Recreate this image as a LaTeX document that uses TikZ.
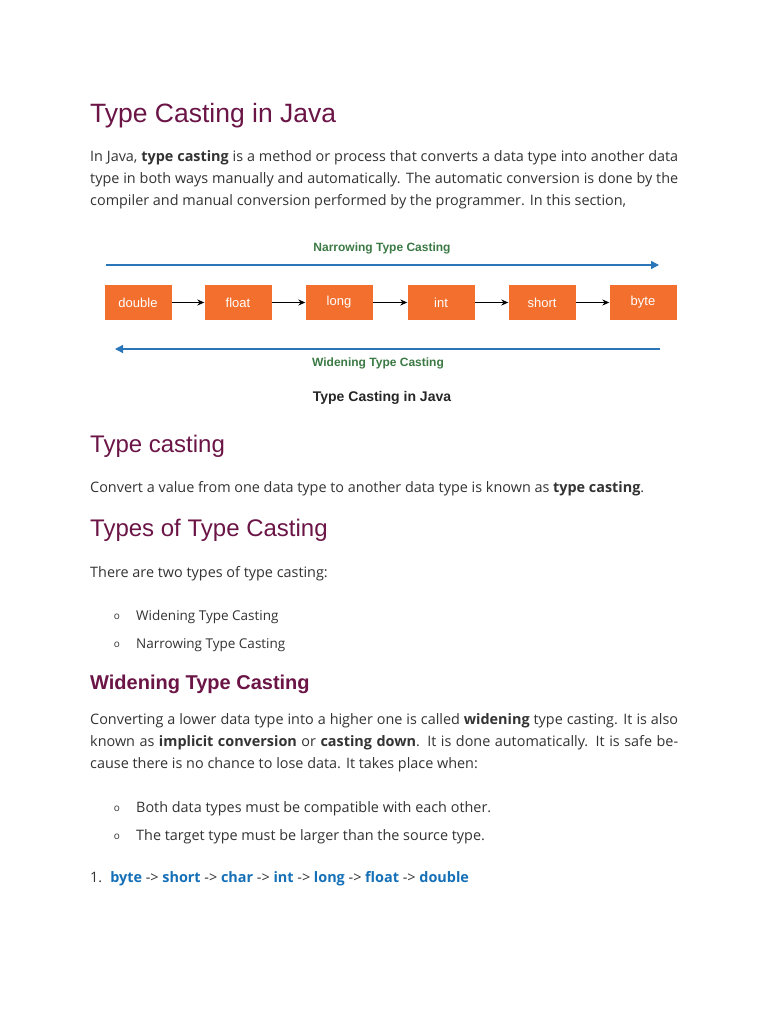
\documentclass[tikz,border=0pt]{standalone}
\usepackage{fontspec}
\setmainfont{Open Sans}
\newfontfamily\headfont{Liberation Sans}
\usetikzlibrary{positioning,arrows.meta}
\definecolor{maroon}{HTML}{6B1547}
\definecolor{boxorange}{HTML}{F26F2E}
\definecolor{arrowblue}{HTML}{2A76B8}
\definecolor{labgreen}{HTML}{3C7A45}
\definecolor{bodygray}{HTML}{333333}
\definecolor{linkblue}{HTML}{1570B8}
\begin{document}
\begin{tikzpicture}[x=1pt,y=-1pt,
  typebox/.style={rectangle, fill=boxorange, minimum width=67pt, minimum height=35pt, inner sep=0pt, text=white, font=\headfont\fontsize{13}{15}\selectfont},
  chain/.style={-{Stealth[length=7pt,width=6pt]}, thick, black},
  cast/.style={-{Triangle[length=8pt,width=8pt]}, line width=1.3pt, arrowblue},
  castlabel/.style={text=labgreen, font=\headfont\fontsize{12}{14}\selectfont\bfseries},
  heading/.style={anchor=west, inner sep=0pt, text=maroon, font=\headfont\fontsize{24}{28}\selectfont},
  para/.style={anchor=north west, inner sep=0pt, text width=588pt, align=justify, text=bodygray, font=\fontsize{14.4}{22}\selectfont},
  line/.style={anchor=west, inner sep=0pt, text=bodygray, font=\fontsize{14.4}{20}\selectfont},
  bullet/.style={anchor=center, inner sep=0pt, text=bodygray, font=\fontsize{10}{12}\selectfont}
]
\useasboundingbox[fill=white] (0,0) rectangle (768,1024);

% Title and intro
\node[heading, font=\headfont\fontsize{26.5}{30}\selectfont] (title) at (90,116) {Type Casting in Java};
\node[para] (intro) at (90,150) {In Java, \textbf{type casting} is a method or process that converts a data type into another data type in both ways manually and automatically. The automatic conversion is done by the compiler and manual conversion performed by the programmer. In this section,};

% Diagram
\node[typebox] (double) at (138,302.5) {double};
\node[typebox] (float) at (238,302.5) {float};
\node[typebox] (long) at (339,302.5) {long};
\node[typebox] (int) at (441,302.5) {int};
\node[typebox] (short) at (542,302.5) {short};
\node[typebox] (byte) at (643,302.5) {byte};
\draw[chain] (double) -- (float);
\draw[chain] (float) -- (long);
\draw[chain] (long) -- (int);
\draw[chain] (int) -- (short);
\draw[chain] (short) -- (byte);

\coordinate (nstart) at (106,265);
\coordinate (nend) at (659,265);
\coordinate (wstart) at (660,349);
\coordinate (wend) at (115,349);
\draw[cast] (nstart) -- (nend);
\draw[cast] (wstart) -- (wend);
\node[castlabel] (narrow) at (382,248) {Narrowing Type Casting};
\node[castlabel] (widen) at (378,363) {Widening Type Casting};
\node[font=\headfont\fontsize{14}{16}\selectfont\bfseries, text=black!85] (caption) at (382,398) {Type Casting in Java};

% Type casting
\node[heading] (h1) at (90,446) {Type casting};
\node[line] (p1) at (90,489) {Convert a value from one data type to another data type is known as \textbf{type casting}.};

% Types of Type Casting
\node[heading] (h2) at (90,530) {Types of Type Casting};
\node[line] (p2) at (90,574) {There are two types of type casting:};
\node[bullet] (b1) at (117,617) {o};
\node[line, font=\fontsize{13.5}{18}\selectfont] (t1) at (136,617) {Widening Type Casting};
\node[bullet] (b2) at (117,645) {o};
\node[line, font=\fontsize{13.5}{18}\selectfont] (t2) at (136,645) {Narrowing Type Casting};

% Widening Type Casting
\node[heading, font=\headfont\fontsize{20}{24}\selectfont\bfseries] (h3) at (90,684) {Widening Type Casting};
\node[para] (p3) at (90,713) {Converting a lower data type into a higher one is called \textbf{widening} type casting. It is also known as \textbf{implicit conversion} or \textbf{casting down}. It is done automatically. It is safe because there is no chance to lose data. It takes place when:};
\node[bullet] (b3) at (117,809) {o};
\node[line] (t3) at (136,809) {Both data types must be compatible with each other.};
\node[bullet] (b4) at (117,837) {o};
\node[line] (t4) at (136,837) {The target type must be larger than the source type.};

\node[line] (n1) at (90,879) {1.\hspace{8pt}\textcolor{linkblue}{\textbf{byte}} -> \textcolor{linkblue}{\textbf{short}} -> \textcolor{linkblue}{\textbf{char}} -> \textcolor{linkblue}{\textbf{int}} -> \textcolor{linkblue}{\textbf{long}} -> \textcolor{linkblue}{\textbf{float}} -> \textcolor{linkblue}{\textbf{double}}};
\end{tikzpicture}
\end{document}
